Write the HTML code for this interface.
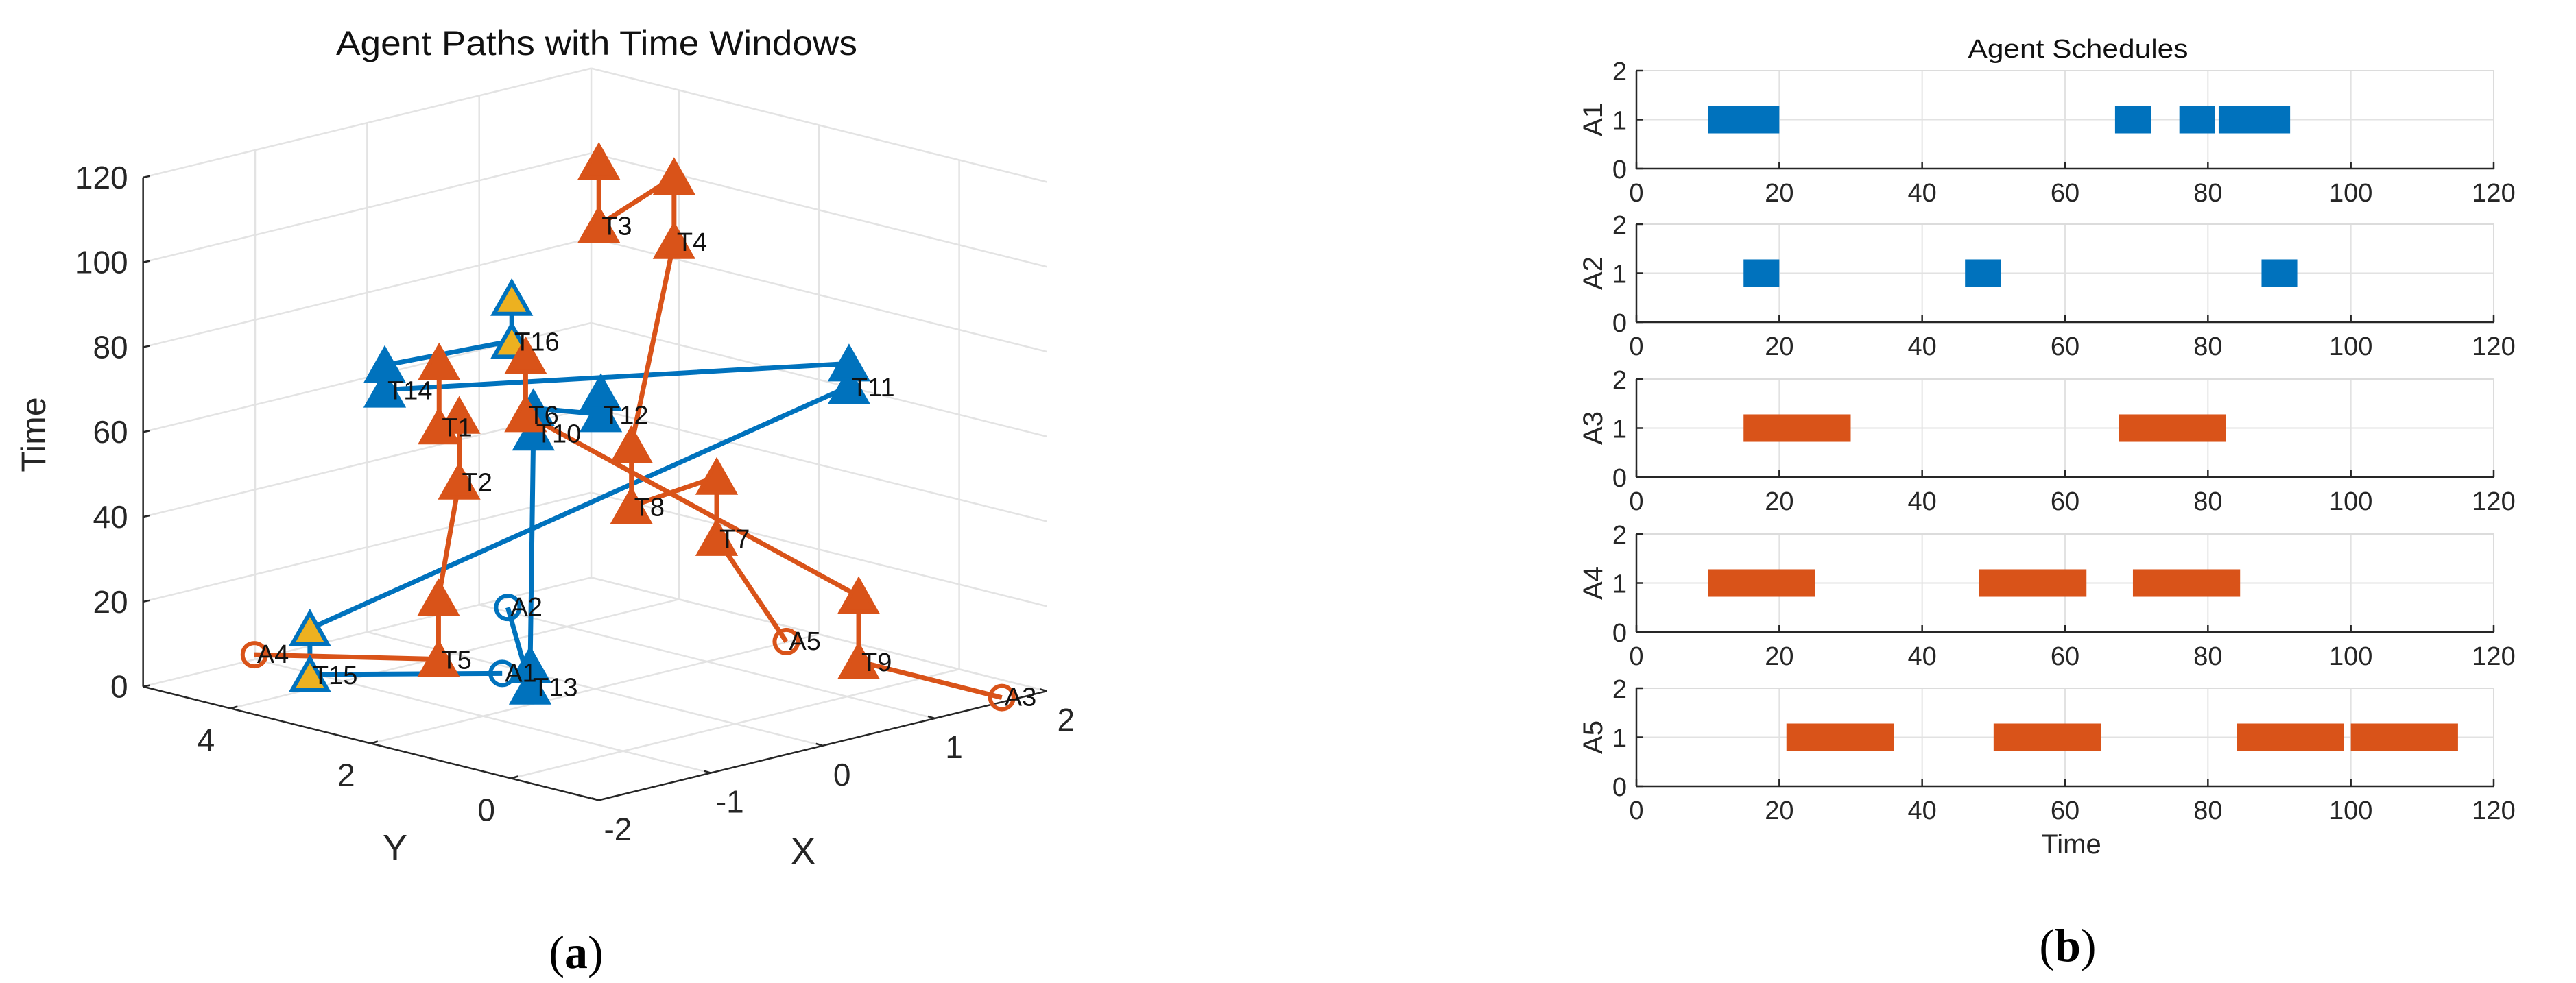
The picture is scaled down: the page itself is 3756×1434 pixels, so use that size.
<!DOCTYPE html>
<html><head><meta charset="utf-8"><style>
html,body{margin:0;padding:0;background:#fff;}
svg{display:block;font-family:"Liberation Sans",sans-serif;}
</style></head><body>
<svg id="fig" width="3756" height="1434" viewBox="0 0 3756 1434" xmlns="http://www.w3.org/2000/svg">
<rect width="3756" height="1434" fill="#fff"/>
<g id="left"></g>
<g id="right"></g>
<text x="840" y="1412" text-anchor="middle" font-family="Liberation Serif, serif" font-size="68">(<tspan font-weight="bold">a</tspan>)</text>
<text x="3015" y="1402" text-anchor="middle" font-family="Liberation Serif, serif" font-size="68">(<tspan font-weight="bold">b</tspan>)</text>
</svg>
<script>
// ---------- 3D chart data ----------
const taskNames = ['T1','T2','T3','T4','T5','T6','T7','T8','T9','T10','T11','T12','T13','T14','T15','T16'];
const taskX = [-1.256,-0.55,0.809,2.01,-0.937,-0.49,1.668,-0.369,0.534,0.902,1.475,-1.686,-1.406,-1.374,-1.795,-0.299];
const taskY = [2.216,3.058,3.237,4.084,2.734,2.206,2.929,0.89,-0.909,4.32,0.733,-0.779,0.677,2.803,3.198,2.709];
const taskStart = [69,48,99,84,10,67,21,50,15,45,67,87,15,76,10,81];
const taskEnd = [84.1,63.5,113.9,99.1,24.4,80.7,35.4,64.4,30.4,50.8,72.4,92,20,81.8,20.8,91.1];
const yellowTasks = ['T15','T16'];
const agentNames = ['A1','A2','A3','A4','A5'];
const agentX = [-0.14,1.08,1.68,-0.92,1.72];
const agentY = [3.10,4.97,-1.12,5.39,2.02];
const agentRoutes = [[15,11,14,16],[13,10,12],[9,6],[5,2,1],[7,8,4,3]];
const xTicks = [-2,-1,0,1,2];
const yTicks = [0,2,4];
const tTicks = [0,20,40,60,80,100,120];
// ---------- schedule data ----------
const schedAgents = ['A1','A2','A3','A4','A5'];
const schedStarts = [[10,67,76,81.5],[15,46,87.5],[15,67.5],[10,48,69.5],[21,50,84,100]];
const schedEnds = [[20,72,81,91.5],[20,51,92.5],[30,82.5],[25,63,84.5],[36,65,99,115]];
const schedTicks = [0,20,40,60,80,100,120];

const NS='http://www.w3.org/2000/svg';
const BLUE='#0072BD', ORANGE='#D95319', YEL='#EDB120';
function mk(parent,tag,attrs,text){const e=document.createElementNS(NS,tag);for(const k in attrs)e.setAttribute(k,attrs[k]);if(text!==undefined)e.textContent=text;parent.appendChild(e);return e;}

// ---------- 3D projection ----------
const XL=[-2,2], YL=[-1.25,5.25], TL=[0,120];
function P(x,y,t){return [1071.9+163.35*x-102.2*y, 1055.9-39.8*x-25.5*y-6.19*t];}
const L=document.getElementById('left');
function line3(g,a,b,st,w){const p=P(...a),q=P(...b);return mk(g,'line',{x1:p[0],y1:p[1],x2:q[0],y2:q[1],stroke:st,'stroke-width':w});}
const grid=mk(L,'g',{});


const gc='#e3e3e3';
xTicks.forEach(x=>{line3(grid,[x,YL[0],0],[x,YL[1],0],gc,2.5);line3(grid,[x,YL[1],0],[x,YL[1],120],gc,2.5);});
yTicks.forEach(y=>{line3(grid,[XL[0],y,0],[XL[1],y,0],gc,2.5);line3(grid,[XL[1],y,0],[XL[1],y,120],gc,2.5);});
tTicks.forEach(t=>{line3(grid,[XL[0],YL[1],t],[XL[1],YL[1],t],gc,2.5);line3(grid,[XL[1],YL[1],t],[XL[1],YL[0],t],gc,2.5);});
const ax=mk(L,'g',{});


const ac='#262626';
line3(ax,[XL[0],YL[1],0],[XL[0],YL[1],120],ac,2.5);
line3(ax,[XL[0],YL[1],0],[XL[0],YL[0],0],ac,2.5);
line3(ax,[XL[0],YL[0],0],[XL[1],YL[0],0],ac,2.5);
tTicks.forEach(t=>{const p=P(XL[0],YL[1],t);mk(ax,'line',{x1:p[0],y1:p[1],x2:p[0]+10,y2:p[1]-2,stroke:ac,'stroke-width':2.5});
 const lb=mk(ax,'text',{x:p[0]-22,y:p[1]+16,'text-anchor':'end','font-size':46,fill:'#262626'},String(t));
 
 });
yTicks.forEach(y=>{const p=P(XL[0],y,0);mk(ax,'line',{x1:p[0],y1:p[1],x2:p[0]+10,y2:p[1]-3,stroke:ac,'stroke-width':2.5});
 const lb=mk(ax,'text',{x:p[0]-36,y:p[1]+62,'text-anchor':'middle','font-size':46,fill:'#262626'},String(y));
 
 });
xTicks.forEach(x=>{const p=P(x,YL[0],0);mk(ax,'line',{x1:p[0],y1:p[1],x2:p[0]-10,y2:p[1]-3,stroke:ac,'stroke-width':2.5});
 const lb=mk(ax,'text',{x:p[0]+28,y:p[1]+58,'text-anchor':'middle','font-size':46,fill:'#262626'},String(x));
 
 });
let t1=mk(L,'text',{x:870,y:80,'text-anchor':'middle','font-size':50,textLength:760,lengthAdjust:'spacingAndGlyphs',fill:'#111'},'Agent Paths with Time Windows');


let t2=mk(L,'text',{x:0,y:0,transform:'translate(66,634) rotate(-90)','text-anchor':'middle','font-size':50,fill:'#262626'},'Time');


let t3=mk(L,'text',{x:576,y:1255,'text-anchor':'middle','font-size':54,fill:'#262626'},'Y');


let t4=mk(L,'text',{x:1171,y:1260,'text-anchor':'middle','font-size':54,fill:'#262626'},'X');



const lines=mk(L,'g',{}), marks=mk(L,'g',{}), labs=mk(L,'g',{});
function tri(g,p,fill,edge){const w=26,h=23;return mk(g,'polygon',{points:`${p[0]},${p[1]-h} ${p[0]-w},${p[1]+h} ${p[0]+w},${p[1]+h}`,fill:fill,stroke:edge,'stroke-width':6,'stroke-linejoin':'miter'});}
agentNames.forEach((a,i)=>{
 const col=i<2?BLUE:ORANGE;
 const pts=[P(agentX[i],agentY[i],0)];
 agentRoutes[i].forEach(tn=>{const k=tn-1;pts.push(P(taskX[k],taskY[k],taskStart[k]));pts.push(P(taskX[k],taskY[k],taskEnd[k]));});
 const pl=mk(lines,'polyline',{points:pts.map(p=>p.join(',')).join(' '),fill:'none',stroke:col,'stroke-width':7,'stroke-linejoin':'round'});
 
 
 const c=mk(marks,'circle',{cx:pts[0][0],cy:pts[0][1],r:17,fill:'none',stroke:col,'stroke-width':6});
 
 
 const al=mk(labs,'text',{x:pts[0][0]+4,y:pts[0][1]+12,'font-size':38,fill:'#111'},a);
 
 
 agentRoutes[i].forEach(tn=>{const k=tn-1;const yl=yellowTasks.includes(taskNames[k]);
  const ps=P(taskX[k],taskY[k],taskStart[k]), pe=P(taskX[k],taskY[k],taskEnd[k]);
  const m1=tri(marks,ps,yl?YEL:col,col);
  
  
  const m2=tri(marks,pe,yl?YEL:col,col);
  
  
  const tl=mk(labs,'text',{x:ps[0]+4,y:ps[1]+14,'font-size':38,fill:'#111'},taskNames[k]);
  
  
 });
});

// ---------- schedule chart ----------
const R=document.getElementById('right');
const x0=2386,x1=3636,tops=[103,327,553,779,1004],H=143;
function sx(v){return x0+(v-0)*(x1-x0)/120;}
schedAgents.forEach((a,i)=>{
 const top=tops[i],bot=top+H;
 function sy(v){return bot-v*H/2;}
 const g=mk(R,'g',{});
 
 
 schedTicks.forEach(t=>{if(t>0&&t<120)mk(g,'line',{x1:sx(t),y1:top,x2:sx(t),y2:bot,stroke:'#e2e2e2','stroke-width':2});});
 mk(g,'line',{x1:x0,y1:sy(1),x2:x1,y2:sy(1),stroke:'#e2e2e2','stroke-width':2});
 mk(g,'line',{x1:x0,y1:top,x2:x1,y2:top,stroke:'#dcdcdc','stroke-width':2});
 mk(g,'line',{x1:x1,y1:top,x2:x1,y2:bot,stroke:'#dcdcdc','stroke-width':2});
 const col=i<2?BLUE:ORANGE;
 schedStarts[i].forEach((s,j)=>{
  const b=mk(g,'rect',{x:sx(s),y:sy(1.28),width:sx(schedEnds[i][j])-sx(s),height:sy(0.72)-sy(1.28),fill:col});
  
  
 });
 mk(g,'line',{x1:x0,y1:top,x2:x0,y2:bot,stroke:'#262626','stroke-width':2.5});
 mk(g,'line',{x1:x0,y1:bot,x2:x1,y2:bot,stroke:'#262626','stroke-width':2.5});
 [0,1,2].forEach(v=>{mk(g,'line',{x1:x0,y1:sy(v),x2:x0+10,y2:sy(v),stroke:'#262626','stroke-width':2.5});
  const lb=mk(g,'text',{x:x0-14,y:sy(v)+14,'text-anchor':'end','font-size':38,fill:'#262626'},String(v));
  
  });
 schedTicks.forEach(t=>{mk(g,'line',{x1:sx(t),y1:bot,x2:sx(t),y2:bot-10,stroke:'#262626','stroke-width':2.5});
  const lb=mk(g,'text',{x:sx(t),y:bot+48,'text-anchor':'middle','font-size':38,fill:'#262626'},String(t));
  
  });
 const yl=mk(g,'text',{x:0,y:0,transform:`translate(2336,${top+H/2}) rotate(-90)`,'text-anchor':'middle','font-size':40,fill:'#262626'},a);
 
 
});
let rt=mk(R,'text',{x:3030,y:84,'text-anchor':'middle','font-size':38,textLength:321,lengthAdjust:'spacingAndGlyphs',fill:'#111'},'Agent Schedules');


let rx=mk(R,'text',{x:3020,y:1245,'text-anchor':'middle','font-size':40,fill:'#262626'},'Time');


</script>
</body></html>
